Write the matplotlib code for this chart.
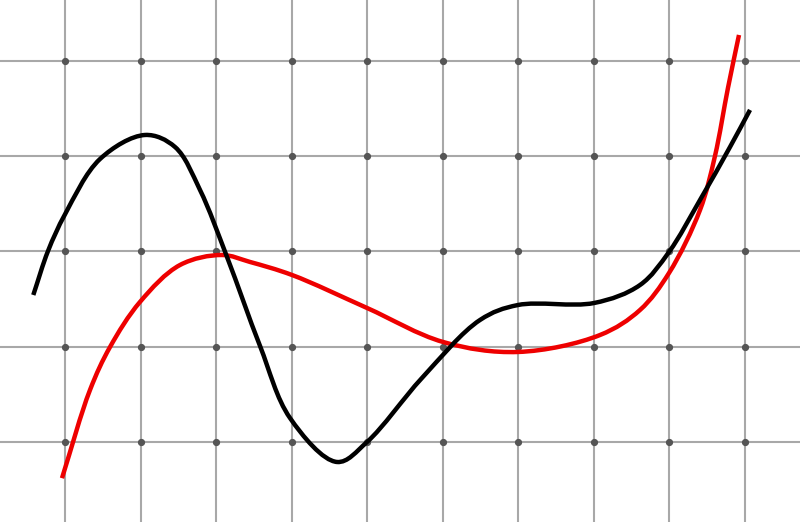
import matplotlib
matplotlib.use("Agg")
import matplotlib.pyplot as plt
import numpy as np
from matplotlib.path import Path
from matplotlib.patches import PathPatch

# grid positions (grid units)
grid_x = [1, 2, 3, 4, 5, 6, 7, 8, 9, 10]
grid_y = [1, 2, 3, 4, 5]

# black curve (grid units)
black_x = [0.58, 0.775, 1.0, 1.464, 2.06, 2.457, 2.788, 3.146, 3.583, 3.98,
           4.603, 5.0, 5.728, 6.497, 7.0, 8.007, 8.616, 9.0, 9.411, 9.808, 10.073]
black_y = [2.543, 3.005, 3.39, 3.971, 4.223, 4.097, 3.646, 2.942, 2.008, 1.252,
           0.79, 1.0, 1.672, 2.281, 2.438, 2.459, 2.648, 2.995, 3.541, 4.097, 4.486]

# red curve
red_x = [0.96, 1.331, 1.596, 1.993, 2.523, 3.079, 3.45, 4.007, 5.0, 6.007,
         7.0, 8.086, 8.616, 9.0, 9.411, 9.609, 9.781, 9.927]
red_y = [0.62, 1.546, 1.997, 2.47, 2.858, 2.963, 2.89, 2.753, 2.407, 2.05,
         1.945, 2.123, 2.386, 2.774, 3.436, 4.003, 4.717, 5.273]


def smooth_path(xs, ys, alpha=0.5):
    # centripetal Catmull-Rom through the points, drawn as cubic Bezier pieces
    sx, sy = 75.5, 95.25  # roughly pixels per grid unit, for even distances
    p = np.column_stack([np.asarray(xs) * sx, np.asarray(ys) * sy])
    p = np.vstack([2 * p[0] - p[1], p, 2 * p[-1] - p[-2]])
    verts = [p[1]]
    codes = [Path.MOVETO]
    for i in range(1, len(p) - 2):
        p0, p1, p2, p3 = p[i - 1], p[i], p[i + 1], p[i + 2]
        d1 = np.linalg.norm(p1 - p0) ** alpha
        d2 = np.linalg.norm(p2 - p1) ** alpha
        d3 = np.linalg.norm(p3 - p2) ** alpha
        b1 = (d1**2 * p2 - d2**2 * p0 + (2 * d1**2 + 3 * d1 * d2 + d2**2) * p1) / (3 * d1 * (d1 + d2))
        b2 = (d3**2 * p1 - d2**2 * p3 + (2 * d3**2 + 3 * d3 * d2 + d2**2) * p2) / (3 * d3 * (d3 + d2))
        verts += [b1, b2, p2]
        codes += [Path.CURVE4] * 3
    verts = np.array(verts) / [sx, sy]
    return Path(verts, codes)


fig = plt.figure(figsize=(8, 5.22), dpi=100)
ax = fig.add_axes([0, 0, 1, 1])
ax.set_xlim(0.139, 10.735)
ax.set_ylim(0.160, 5.640)
ax.axis("off")

for gx in grid_x:
    ax.axvline(gx, color="#a8a8a8", linewidth=1.5, zorder=1)
for gy in grid_y:
    ax.axhline(gy, color="#a8a8a8", linewidth=1.5, zorder=1)

# dots at the crossings
px = [gx for gx in grid_x for gy in grid_y]
py = [gy for gx in grid_x for gy in grid_y]
ax.plot(px, py, "o", color="#555555", markersize=4.2, zorder=2)

ax.add_patch(PathPatch(smooth_path(red_x, red_y), facecolor="none", edgecolor="#ee0000",
                       linewidth=3.2, capstyle="butt", joinstyle="round", zorder=3))
ax.add_patch(PathPatch(smooth_path(black_x, black_y), facecolor="none", edgecolor="black",
                       linewidth=3.2, capstyle="butt", joinstyle="round", zorder=4))

fig.savefig("out.png", dpi=100)
